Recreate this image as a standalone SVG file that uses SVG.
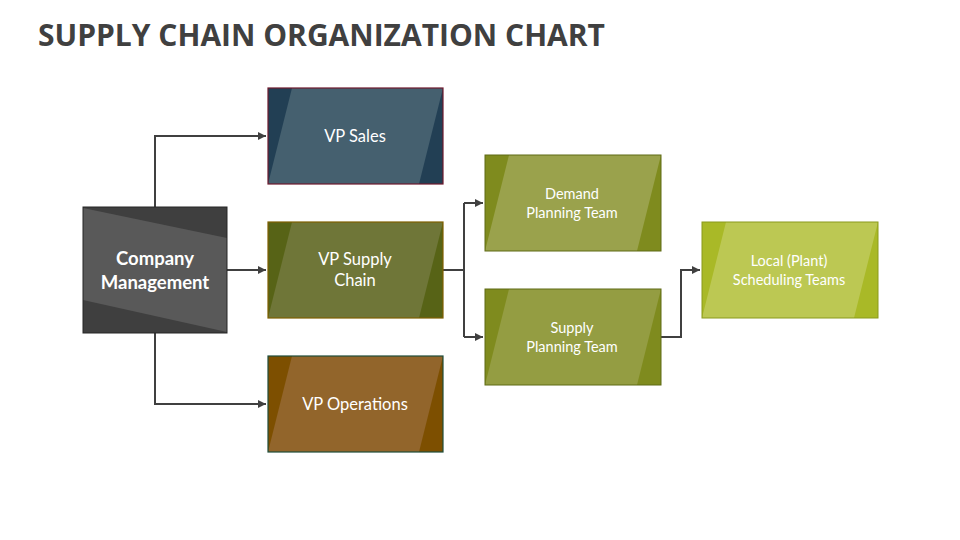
<svg xmlns="http://www.w3.org/2000/svg" width="960" height="540" viewBox="0 0 960 540">
<defs>
<style>
.t{font-family:Lato,"Open Sans","Liberation Sans",sans-serif;fill:#fff;text-anchor:middle;}
.lbl{font-size:16.5px;}
.sm{font-size:14.5px;}
.conn{fill:none;stroke:#404040;stroke-width:2;}
</style>
<marker id="ah" viewBox="0 0 10 10" refX="10" refY="5" markerWidth="4" markerHeight="4" orient="auto" markerUnits="strokeWidth">
<path d="M0,0 L10,5 L0,10 z" fill="#404040"/>
</marker>
</defs>
<rect width="960" height="540" fill="#fff"/>
<text x="38" y="46" font-family="'Open Sans','Liberation Sans',sans-serif" font-weight="bold" font-size="31" fill="#404040" textLength="567" lengthAdjust="spacingAndGlyphs">SUPPLY CHAIN ORGANIZATION CHART</text>

<g id="connectors">
<path class="conn" d="M155,207 V136 H266" marker-end="url(#ah)"/>
<path class="conn" d="M155,333 V404 H266" marker-end="url(#ah)"/>
<path class="conn" d="M227,270 H266" marker-end="url(#ah)"/>
<path class="conn" d="M443,270 H464"/>
<path class="conn" d="M464,203 V337"/>
<path class="conn" d="M464,203 H483" marker-end="url(#ah)"/>
<path class="conn" d="M464,337 H483" marker-end="url(#ah)"/>
<path class="conn" d="M661,337 H681 V270 H700" marker-end="url(#ah)"/>
</g>

<g id="company-management">
<rect x="83" y="207" width="144" height="126" fill="#3f3f3f"/>
<polygon points="83,208 227,238 227,332 83,300" fill="#595959"/>
<rect x="83" y="207" width="144" height="126" fill="none" stroke="#262626" stroke-width="1"/>
<text class="t" x="155" y="265" font-size="18.5" font-weight="bold">Company</text>
<text class="t" x="155" y="289" font-size="18.5" font-weight="bold">Management</text>
</g>

<g id="vp-sales">
<rect x="268" y="88" width="175" height="96" fill="#223f54"/>
<polygon points="292,88 443,88 419,184 268,184" fill="#45606f"/>
<rect x="268" y="88" width="175" height="96" fill="none" stroke="#6e1a2e" stroke-width="1.2"/>
<text class="t lbl" x="355" y="142">VP Sales</text>
</g>

<g id="vp-supply-chain">
<rect x="268" y="222" width="175" height="96" fill="#576316"/>
<polygon points="292,222 443,222 419,318 268,318" fill="#6f7638"/>
<rect x="268" y="222" width="175" height="96" fill="none" stroke="#7f6000" stroke-width="1.2"/>
<text class="t lbl" x="355" y="265">VP Supply</text>
<text class="t lbl" x="355" y="286">Chain</text>
</g>

<g id="vp-operations">
<rect x="268" y="356" width="175" height="96" fill="#7d4f00"/>
<polygon points="292,356 443,356 419,452 268,452" fill="#92652b"/>
<rect x="268" y="356" width="175" height="96" fill="none" stroke="#1e4d3a" stroke-width="1.2"/>
<text class="t lbl" x="355" y="410">VP Operations</text>
</g>

<g id="demand-planning-team">
<rect x="485" y="155" width="176" height="96" fill="#7f8b1e"/>
<polygon points="509,155 661,155 637,251 485,251" fill="#9aa24c"/>
<rect x="485" y="155" width="176" height="96" fill="none" stroke="#5f6a14" stroke-width="1"/>
<text class="t sm" x="572" y="199">Demand</text>
<text class="t sm" x="572" y="218">Planning Team</text>
</g>

<g id="supply-planning-team">
<rect x="485" y="289" width="176" height="96" fill="#7f8b1e"/>
<polygon points="509,289 661,289 637,385 485,385" fill="#949d42"/>
<rect x="485" y="289" width="176" height="96" fill="none" stroke="#5f6a14" stroke-width="1"/>
<text class="t sm" x="572" y="333">Supply</text>
<text class="t sm" x="572" y="352">Planning Team</text>
</g>

<g id="local-scheduling-teams">
<rect x="702" y="222" width="176" height="96" fill="#a9b927"/>
<polygon points="726,222 878,222 854,318 702,318" fill="#bcc853"/>
<rect x="702" y="222" width="176" height="96" fill="none" stroke="#8a9a1c" stroke-width="1"/>
<text class="t sm" x="789" y="266">Local (Plant)</text>
<text class="t sm" x="789" y="285">Scheduling Teams</text>
</g>
</svg>
